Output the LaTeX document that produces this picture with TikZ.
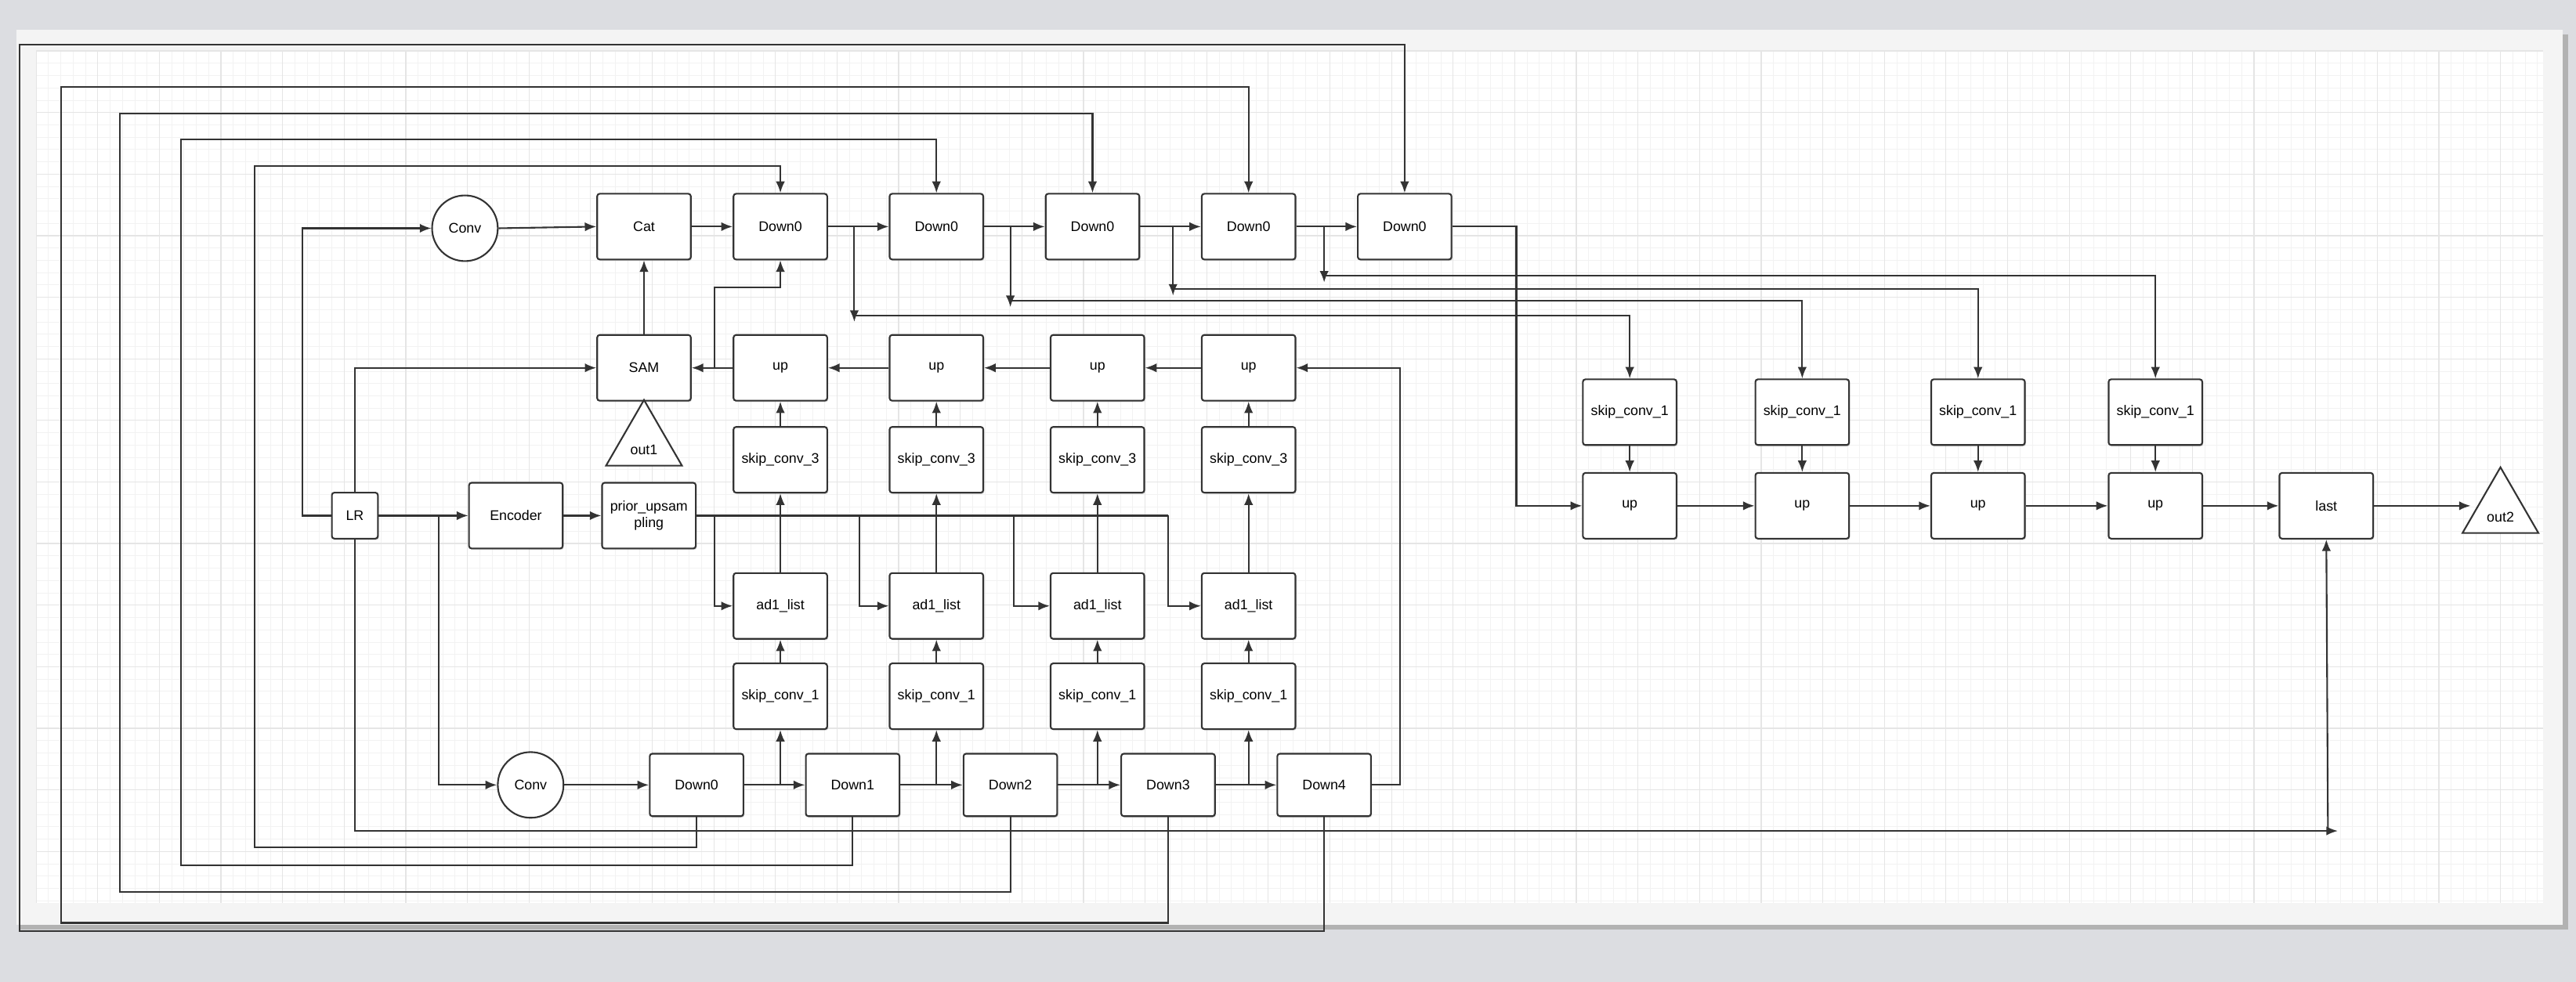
\documentclass[tikz,border=0pt]{standalone}
\usepackage{fontspec}
\setmainfont{Liberation Sans}
\usetikzlibrary{arrows.meta,shapes.geometric,shadows}
\definecolor{ln}{HTML}{333333}
\begin{document}
\begin{tikzpicture}[x=1pt,y=-1pt,
  box/.style={draw=ln,line width=1pt,rounded corners=1.5pt,fill=white,minimum width=57pt,minimum height=40pt,inner sep=1pt,font=\fontsize{8.5}{10}\selectfont,align=center,
    drop shadow={shadow xshift=0.6pt,shadow yshift=-0.8pt,opacity=0.35}},
  circ/.style={draw=ln,line width=1pt,ellipse,fill=white,minimum width=40pt,minimum height=40pt,inner sep=0pt,font=\fontsize{8.5}{10}\selectfont},
  tri/.style={draw=ln,line width=1pt,isosceles triangle,shape border rotate=90,isosceles triangle apex angle=60,fill=white,minimum height=40pt,inner sep=0pt,font=\fontsize{8.5}{10}\selectfont},
  ar/.style={draw=ln,line width=1pt,-{Latex[length=7pt,width=5.5pt]}},
  li/.style={draw=ln,line width=1pt}]
\useasboundingbox (0,0) rectangle (1568,598);
\fill[color={rgb,255:red,220;green,221;blue,225}] (0,0) rectangle (1568,598);
\fill[black!30] (12,21) rectangle (1563,566);
\fill[color={rgb,255:red,244;green,244;blue,244}] (10,18) rectangle (1560,563);
\fill[white] (22,31) rectangle (1548,550);
\foreach \x in {22,29.5,...,1548} \draw[black!5,line width=0.4pt] (\x,31) -- (\x,550);
\foreach \y in {31,38.5,...,550} \draw[black!5,line width=0.4pt] (22,\y) -- (1548,\y);
\foreach \x in {22,59.5,...,1548} \draw[black!10,line width=0.6pt] (\x,31) -- (\x,550);
\foreach \y in {31,68.5,...,550} \draw[black!10,line width=0.6pt] (22,\y) -- (1548,\y);
% top row
\node[circ] (conv1) at (283,139) {Conv};
\node[box] (cat) at (392,138) {Cat};
\node[box] (d1) at (475,138) {Down0};
\node[box] (d2) at (570,138) {Down0};
\node[box] (d3) at (665,138) {Down0};
\node[box] (d4) at (760,138) {Down0};
\node[box] (d5) at (855,138) {Down0};
% second row
\node[box] (sam) at (392,224) {SAM};
\node[box] (u1) at (475,224) {up};
\node[box] (u2) at (570,224) {up};
\node[box] (u3) at (668,224) {up};
\node[box] (u4) at (760,224) {up};
\node[tri] (out1) at (392,274) {out1};
\node[box] (s31) at (475,280) {skip\_conv\_3};
\node[box] (s32) at (570,280) {skip\_conv\_3};
\node[box] (s33) at (668,280) {skip\_conv\_3};
\node[box] (s34) at (760,280) {skip\_conv\_3};
\node[box,minimum width=28pt,minimum height=28pt] (lr) at (216,314) {LR};
\node[box] (enc) at (314,314) {Encoder};
\node[box] (pri) at (395,314) {prior\_upsam\\pling};
\node[box] (a1) at (475,369) {ad1\_list};
\node[box] (a2) at (570,369) {ad1\_list};
\node[box] (a3) at (668,369) {ad1\_list};
\node[box] (a4) at (760,369) {ad1\_list};
\node[box] (k1) at (475,424) {skip\_conv\_1};
\node[box] (k2) at (570,424) {skip\_conv\_1};
\node[box] (k3) at (668,424) {skip\_conv\_1};
\node[box] (k4) at (760,424) {skip\_conv\_1};
\node[circ] (conv2) at (323,478) {Conv};
\node[box,minimum height=38pt] (b0) at (424,478) {Down0};
\node[box,minimum height=38pt] (b1) at (519,478) {Down1};
\node[box,minimum height=38pt] (b2) at (615,478) {Down2};
\node[box,minimum height=38pt] (b3) at (711,478) {Down3};
\node[box,minimum height=38pt] (b4) at (806,478) {Down4};
% right side
\node[box] (r1) at (992,251) {skip\_conv\_1};
\node[box] (r2) at (1097,251) {skip\_conv\_1};
\node[box] (r3) at (1204,251) {skip\_conv\_1};
\node[box] (r4) at (1312,251) {skip\_conv\_1};
\node[box] (ru1) at (992,308) {up};
\node[box] (ru2) at (1097,308) {up};
\node[box] (ru3) at (1204,308) {up};
\node[box] (ru4) at (1312,308) {up};
\node[box] (last) at (1416,308) {last};
\node[tri] (out2) at (1522,315) {out2};
\coordinate (lrend) at (1423,506);
% top row connections
\draw[ar] (lr.west) -- (184,314) |- (conv1.west);
\draw[ar] (lr.north) |- (sam.west);
\draw[ar] (lr.east) -- (enc.west);
\draw[ar] (267,314) |- (conv2.west);
\draw[ar] (enc.east) -- (pri.west);
\draw[ar] (conv1.east) -- (cat.west);
\draw[ar] (cat.east) -- (d1.west);
\draw[ar] (sam.north) -- (cat.south);
\draw[ar] (u1.west) -- (sam.east);
\draw[ar] (435,224) |- (475,175) -- (d1.south);
\draw[ar] (d1.east) -- (d2.west);
\draw[ar] (d2.east) -- (d3.west);
\draw[ar] (d3.east) -- (d4.west);
\draw[ar] (d4.east) -- (d5.west);
\draw[ar] (520,138) -- (520,196);
\draw[ar] (520,192) -| (r1.north);
\draw[ar] (615,138) -- (615,187);
\draw[ar] (615,183) -| (r2.north);
\draw[ar] (714,138) -- (714,180);
\draw[ar] (714,176) -| (r3.north);
\draw[ar] (806,138) -- (806,172);
\draw[ar] (806,168) -| (r4.north);
\draw[ar] (d5.east) -- (923,138) |- (ru1.west);
\draw[ar] (r1) -- (ru1);
\draw[ar] (r2) -- (ru2);
\draw[ar] (r3) -- (ru3);
\draw[ar] (r4) -- (ru4);
\draw[ar] (ru1) -- (ru2);
\draw[ar] (ru2) -- (ru3);
\draw[ar] (ru3) -- (ru4);
\draw[ar] (ru4) -- (last);
\draw[ar] (last) -- (out2.west |- last);
% middle
\draw[ar] (u4) -- (u3);
\draw[ar] (u3) -- (u2);
\draw[ar] (u2) -- (u1);
\foreach \i in {1,2,3,4}{
  \draw[ar] (s3\i) -- (u\i);
  \draw[ar] (a\i) -- (s3\i);
  \draw[ar] (k\i) -- (a\i);
}
\draw[li] (pri.east) -- (711,314);
\draw[ar] (435,314) |- (a1.west);
\draw[ar] (523,314) |- (a2.west);
\draw[ar] (617,314) |- (a3.west);
\draw[ar] (711,314) |- (a4.west);
% bottom
\draw[ar] (conv2) -- (b0);
\draw[ar] (b0) -- (b1);
\draw[ar] (b1) -- (b2);
\draw[ar] (b2) -- (b3);
\draw[ar] (b3) -- (b4);
\draw[ar] (475,478) -- (k1.south);
\draw[ar] (570,478) -- (k2.south);
\draw[ar] (668,478) -- (k3.south);
\draw[ar] (760,478) -- (k4.south);
\draw[ar] (b4.east) -- (852,478) |- (u4.east);
\draw[ar] (lr.south) |- (lrend);
\draw[ar] (1417,506) -- (last.south);
% loops
\draw[ar] (b0.south) |- (155,516) |- (475,101) -- (d1.north);
\draw[ar] (b1.south) |- (110,527) |- (570,85) -- (d2.north);
\draw[ar] (b2.south) |- (73,543) |- (665,69) -- (d3.north);
\draw[ar] (b3.south) |- (37,562) |- (760,53) -- (d4.north);
\draw[ar] (b4.south) |- (12,567) |- (855,27) -- (d5.north);
\end{tikzpicture}
\end{document}
